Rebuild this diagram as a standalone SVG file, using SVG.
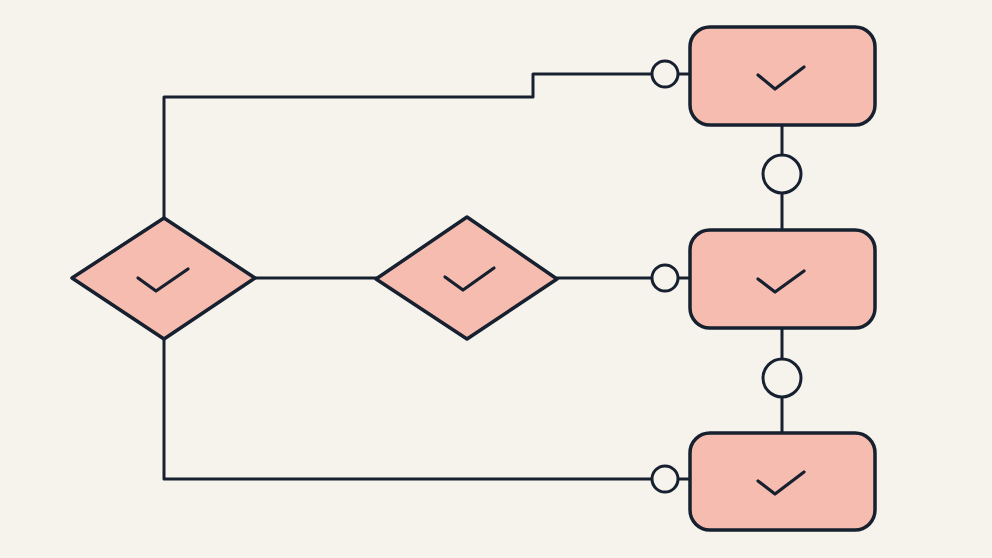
<svg xmlns="http://www.w3.org/2000/svg" width="992" height="558" viewBox="0 0 992 558">
<style>
.ln{fill:none;stroke:#16202f;stroke-width:3;stroke-linecap:round;stroke-linejoin:round}
.nd{fill:#f6bcaf;stroke:#16202f;stroke-width:3.5;stroke-linejoin:round}
.ck{fill:none;stroke:#16202f;stroke-width:3.2;stroke-linecap:round;stroke-linejoin:round}
.pt{fill:#f6f3ed;stroke:#16202f;stroke-width:3}
</style>
<rect width="992" height="558" fill="#f6f3ed"/>
<g id="connectors">
<path class="ln" d="M164 218 V97 H533 V74 H652"/>
<path class="ln" d="M255 278 H377"/>
<path class="ln" d="M557 278 H652"/>
<path class="ln" d="M164 339 V479 H652"/>
<path class="ln" d="M678 74 H690 M678 278 H690 M678 479 H690"/>
<path class="ln" d="M782 125 V154 M782 194 V230 M782 328 V358 M782 398 V433"/>
<circle class="pt" cx="665" cy="74" r="13"/>
<circle class="pt" cx="665" cy="278" r="13"/>
<circle class="pt" cx="665" cy="479" r="13"/>
<circle class="pt" cx="782" cy="174" r="19"/>
<circle class="pt" cx="782" cy="378" r="19"/>
</g>
<g id="decision1">
<polygon class="nd" points="72,278 164,218 255,278 164,339"/>
<path class="ck" d="M138 278 L156 291 L188 269"/>
</g>
<g id="decision2">
<polygon class="nd" points="376,279 467,217 557,279 467,339"/>
<path class="ck" d="M445 277 L463 290 L494 268"/>
</g>
<g id="box1">
<rect class="nd" x="690" y="27" width="185" height="98" rx="20"/>
<path class="ck" d="M758 75 L775 89 L804 67"/>
</g>
<g id="box2">
<rect class="nd" x="690" y="230" width="185" height="98" rx="20"/>
<path class="ck" d="M758 279 L775 292 L804 271"/>
</g>
<g id="box3">
<rect class="nd" x="690" y="433" width="185" height="97" rx="20"/>
<path class="ck" d="M758 481 L775 494 L804 472"/>
</g>
</svg>
